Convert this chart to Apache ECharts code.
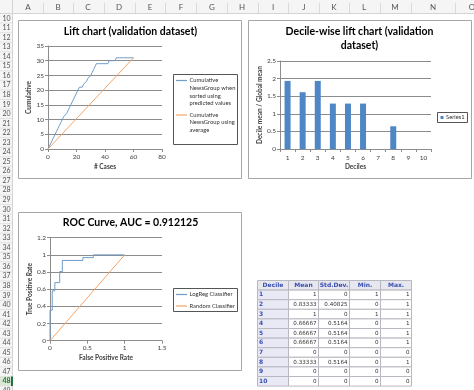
<!DOCTYPE html>
<html><head><meta charset="utf-8">
<script src="https://cdn.jsdelivr.net/npm/echarts@6/dist/echarts.min.js"></script>
<style>html,body{margin:0;padding:0;background:#fff;overflow:hidden}#c{width:474px;height:390px}</style>
</head><body><div id="c"></div>
<script>
// ---- data ----
const liftCumulative = [0,1,2,3,4,5,6,7,8,9,10,11,11,12,13,14,15,16,17,18,19,20,21,21,21,22,22,23,24,24,25,26,27,28,29,29,29,29,29,29,29,29,29,30,30,30,30,30,31,31,31,31,31,31,31,31,31,31,31,31,31];
const avgCases = [0, 60];
const avgCumulative = [0, 31];
const liftXTicks = [0, 20, 40, 60, 80];
const liftYTicks = [0, 5, 10, 15, 20, 25, 30, 35];

const deciles = ['1','2','3','4','5','6','7','8','9','10'];
const decileLift = [1.935, 1.613, 1.935, 1.29, 1.29, 1.29, 0, 0.645, 0, 0];
const decileYTicks = [0, 0.5, 1, 1.5, 2, 2.5];

const rocFpr = [0, 0, 0.03, 0.03, 0.065, 0.065, 0.13, 0.13, 0.165, 0.165, 0.44, 0.44, 0.58, 0.58, 1];
const rocTpr = [0, 0.355, 0.355, 0.581, 0.581, 0.677, 0.677, 0.806, 0.806, 0.935, 0.935, 0.968, 0.968, 1, 1];
const randFpr = [0, 1];
const randTpr = [0, 1];
const rocXTicks = [0, 0.5, 1, 1.5];
const rocYTicks = [0, 0.2, 0.4, 0.6, 0.8, 1, 1.2];

const tableHeader = ['Decile', 'Mean', 'Std.Dev.', 'Min.', 'Max.'];
const tableDecile = ['1','2','3','4','5','6','7','8','9','10'];
const tableMean = ['1','0.83333','1','0.66667','0.66667','0.66667','0','0.33333','0','0'];
const tableStd = ['0','0.40825','0','0.5164','0.5164','0.5164','0','0.5164','0','0'];
const tableMin = ['1','0','1','0','0','0','0','0','0','0'];
const tableMax = ['1','1','1','1','1','1','0','1','0','0'];

const colLetters = ['A','B','C','D','E','F','G','H','I','J','K','L','M','N','O'];
const rowNumbers = [10,11,12,13,14,15,16,17,18,19,20,21,22,23,24,25,26,27,28,29,30,31,32,33,34,35,36,37,38,39,40,41,42,43,44,45,46,47,48,49];

// ---- styles ----
const FONT = 'Lato';
const BLUE = '#6f9cc8', ORANGE = '#f2a468', BAR = '#4f86c6';
const GRID = '#8c8c8c';
const lbl = {fontFamily: FONT, fontSize: 6.5, color: '#404040'};
const nm = {fontFamily: FONT, fontSize: 6.5, fontWeight: 'bold', color: '#404040'};

function valAxis(idx, min, max, interval, split, name, gap, extra) {
  return Object.assign({
    type: 'value', gridIndex: idx, min: min, max: max, interval: interval,
    axisLine: {show: true, lineStyle: {color: GRID, width: 1}},
    axisTick: {show: true, length: 3, lineStyle: {color: GRID}},
    axisLabel: Object.assign({margin: 4}, lbl),
    splitLine: {show: split, lineStyle: {color: GRID, width: 1}},
    name: name, nameLocation: 'middle', nameGap: gap, nameTextStyle: nm
  }, extra || {});
}

// ---- graphic: sheet chrome ----
const g = [];
g.push({type: 'rect', shape: {x: 0, y: 0, width: 474, height: 13}, style: {fill: '#f5f5f5'}, z: 0});
g.push({type: 'rect', shape: {x: 0, y: 0, width: 13, height: 390}, style: {fill: '#f5f5f5'}, z: 0});
g.push({type: 'line', shape: {x1: 0, y1: 13.5, x2: 474, y2: 13.5}, style: {stroke: '#d4d4d4'}, z: 1});
g.push({type: 'line', shape: {x1: 12.5, y1: 0, x2: 12.5, y2: 390}, style: {stroke: '#d4d4d4'}, z: 1});
const colCenters = [28, 58, 88, 119, 150, 181, 212, 242, 273, 304, 334, 364, 395, 433, 472];
const colSeps = [43, 73, 104, 135, 165, 196, 227, 258, 288, 319, 349, 380, 411, 455];
colLetters.forEach((c, i) => g.push({type: 'text', x: colCenters[i], y: 7, style: {text: c, fontFamily: FONT, fontSize: 8, fill: '#555', textAlign: 'center', textVerticalAlign: 'middle'}, z: 2}));
colSeps.forEach(x => g.push({type: 'line', shape: {x1: x + 0.5, y1: 3, x2: x + 0.5, y2: 13}, style: {stroke: '#dadada'}, z: 1}));
rowNumbers.forEach((r, i) => {
  const cy = 18.3 + i * 9.55;
  if (r === 48) {
    g.push({type: 'rect', shape: {x: 0, y: cy - 4.7, width: 12, height: 9.4}, style: {fill: '#d9e7d3'}, z: 1});
    g.push({type: 'line', shape: {x1: 12, y1: cy - 4.7, x2: 12, y2: cy + 4.7}, style: {stroke: '#217346', lineWidth: 2}, z: 2});
  }
  g.push({type: 'text', x: 6.5, y: cy, style: {text: String(r), fontFamily: FONT, fontSize: 7, fill: r === 48 ? '#217346' : '#555', fontWeight: r === 48 ? 'bold' : 'normal', textAlign: 'center', textVerticalAlign: 'middle'}, z: 2});
  g.push({type: 'line', shape: {x1: 0, y1: cy + 4.8, x2: 12, y2: cy + 4.8}, style: {stroke: '#e2e2e2'}, z: 1});
});

// chart boxes
[[18.5, 20.5], [248.5, 20.5], [18.5, 212.5]].forEach(p => g.push({type: 'rect', shape: {x: p[0], y: p[1], width: 223, height: 158}, style: {fill: '#fff', stroke: '#a6a6a6', lineWidth: 1}, z: 0}));

// titles
const tStyle = {fontFamily: FONT, fontSize: 10.5, fontWeight: 'bold', fill: '#000', textAlign: 'center', textVerticalAlign: 'middle'};
g.push({type: 'text', x: 130.5, y: 31.5, style: Object.assign({text: 'Lift chart (validation dataset)'}, tStyle), z: 3});
g.push({type: 'text', x: 359.5, y: 32, style: Object.assign({text: 'Decile-wise lift chart (validation'}, tStyle), z: 3});
g.push({type: 'text', x: 359.5, y: 45.5, style: Object.assign({text: 'dataset)'}, tStyle), z: 3});
g.push({type: 'text', x: 130.5, y: 222.5, style: Object.assign({text: 'ROC Curve, AUC = 0.912125'}, tStyle), z: 3});

// legends
const lgText = {fontFamily: FONT, fontSize: 5.8, fill: '#333', textVerticalAlign: 'middle'};
function legendBox(x, y, w, h) {
  g.push({type: 'rect', shape: {x: x, y: y, width: w, height: h}, style: {fill: '#fff', stroke: '#555', lineWidth: 1}, z: 3});
}
function legendLine(x, y, color, lines) {
  g.push({type: 'line', shape: {x1: x, y1: y, x2: x + 11, y2: y}, style: {stroke: color, lineWidth: 1.2}, z: 4});
  lines.forEach((t, i) => g.push({type: 'text', x: x + 13.5, y: y + i * 7.6, style: Object.assign({text: t}, lgText), z: 4}));
}
legendBox(173.5, 74.5, 64, 70);
legendLine(176, 80.5, BLUE, ['Cumulative', 'NewsGroup when', 'sorted using', 'predicted values']);
legendLine(176, 115, ORANGE, ['Cumulative', 'NewsGroup using', 'average']);
legendBox(173.5, 288.5, 64, 23);
legendLine(176, 294.5, BLUE, ['LogReg Classifier']);
legendLine(176, 306, ORANGE, ['Random Classifier']);
legendBox(437.5, 112.5, 30, 10);
g.push({type: 'rect', shape: {x: 440.5, y: 116, width: 3, height: 3}, style: {fill: BAR}, z: 4});
g.push({type: 'text', x: 446, y: 117.5, style: Object.assign({text: 'Series1'}, lgText), z: 4});

// table
const tx = [257, 288, 318, 349, 380, 411];
const tTop = 280, rh = 9.6;
const cols = [tableDecile, tableMean, tableStd, tableMin, tableMax];
for (let r = 0; r < 11; r++) {
  for (let c = 0; c < 5; c++) {
    const y = tTop + r * rh;
    let fill = '#fff';
    if (r === 0) fill = '#e6e7ef'; else if (c === 0) fill = '#e9e9f6';
    g.push({type: 'rect', shape: {x: tx[c] + 0.5, y: y + 0.5, width: tx[c + 1] - tx[c], height: rh}, style: {fill: fill, stroke: '#b8b8c0', lineWidth: 1}, z: 1});
    if (r === 0) {
      g.push({type: 'text', x: (tx[c] + tx[c + 1]) / 2 + 0.5, y: y + rh / 2 + 0.5, style: {text: tableHeader[c], fontFamily: 'DejaVu Sans', fontSize: 6, fontWeight: 'bold', fill: '#3a4fb0', textAlign: 'center', textVerticalAlign: 'middle'}, z: 2});
    } else if (c === 0) {
      g.push({type: 'text', x: tx[c] + 2, y: y + rh / 2 + 0.5, style: {text: cols[c][r - 1], fontFamily: 'DejaVu Sans', fontSize: 6, fontWeight: 'bold', fill: '#3a4fb0', textAlign: 'left', textVerticalAlign: 'middle'}, z: 2});
    } else {
      g.push({type: 'text', x: tx[c + 1] - 1.5, y: y + rh / 2 + 0.5, style: {text: cols[c][r - 1], fontFamily: 'DejaVu Sans', fontSize: 5.6, fill: '#333', textAlign: 'right', textVerticalAlign: 'middle'}, z: 2});
    }
  }
}

const option = {
  animation: false,
  backgroundColor: '#fff',
  grid: [
    {left: 48, top: 46, width: 114, height: 103},
    {left: 280, top: 61, width: 151, height: 88},
    {left: 50, top: 237.7, width: 112, height: 103}
  ],
  xAxis: [
    valAxis(0, liftXTicks[0], liftXTicks[liftXTicks.length - 1], liftXTicks[1] - liftXTicks[0], false, '# Cases', 14),
    {type: 'category', gridIndex: 1, data: deciles,
     axisLine: {show: true, lineStyle: {color: GRID}},
     axisTick: {show: true, length: 3, lineStyle: {color: GRID}},
     axisLabel: Object.assign({margin: 5}, lbl),
     name: 'Deciles', nameLocation: 'middle', nameGap: 14, nameTextStyle: nm},
    valAxis(2, rocXTicks[0], rocXTicks[rocXTicks.length - 1], rocXTicks[1] - rocXTicks[0], false, 'False Positive Rate', 14)
  ],
  yAxis: [
    valAxis(0, liftYTicks[0], liftYTicks[liftYTicks.length - 1], liftYTicks[1] - liftYTicks[0], true, 'Cumulative', 13),
    valAxis(1, decileYTicks[0], decileYTicks[decileYTicks.length - 1], decileYTicks[1] - decileYTicks[0], true, 'Decile mean / Global mean', 14),
    valAxis(2, rocYTicks[0], rocYTicks[rocYTicks.length - 1], rocYTicks[1] - rocYTicks[0], true, 'True Positive Rate', 15, {axisLabel: Object.assign({margin: 4, formatter: v => String(Math.round(v * 10) / 10)}, lbl)})
  ],
  series: [
    {type: 'line', xAxisIndex: 0, yAxisIndex: 0, showSymbol: false, data: liftCumulative.map((v, i) => [i, v]), lineStyle: {color: BLUE, width: 1}, itemStyle: {color: BLUE}, z: 3},
    {type: 'line', xAxisIndex: 0, yAxisIndex: 0, showSymbol: false, data: avgCases.map((v, i) => [v, avgCumulative[i]]), lineStyle: {color: ORANGE, width: 1}, itemStyle: {color: ORANGE}, z: 3},
    {type: 'bar', xAxisIndex: 1, yAxisIndex: 1, data: decileLift, barWidth: 6, itemStyle: {color: BAR}},
    {type: 'line', xAxisIndex: 2, yAxisIndex: 2, showSymbol: false, data: rocFpr.map((v, i) => [v, rocTpr[i]]), lineStyle: {color: BLUE, width: 1}, itemStyle: {color: BLUE}, z: 3},
    {type: 'line', xAxisIndex: 2, yAxisIndex: 2, showSymbol: false, data: randFpr.map((v, i) => [v, randTpr[i]]), lineStyle: {color: ORANGE, width: 1}, itemStyle: {color: ORANGE}, z: 3}
  ],
  graphic: g
};
const chart = echarts.init(document.getElementById('c'));
chart.setOption(option);
</script>
</body></html>
